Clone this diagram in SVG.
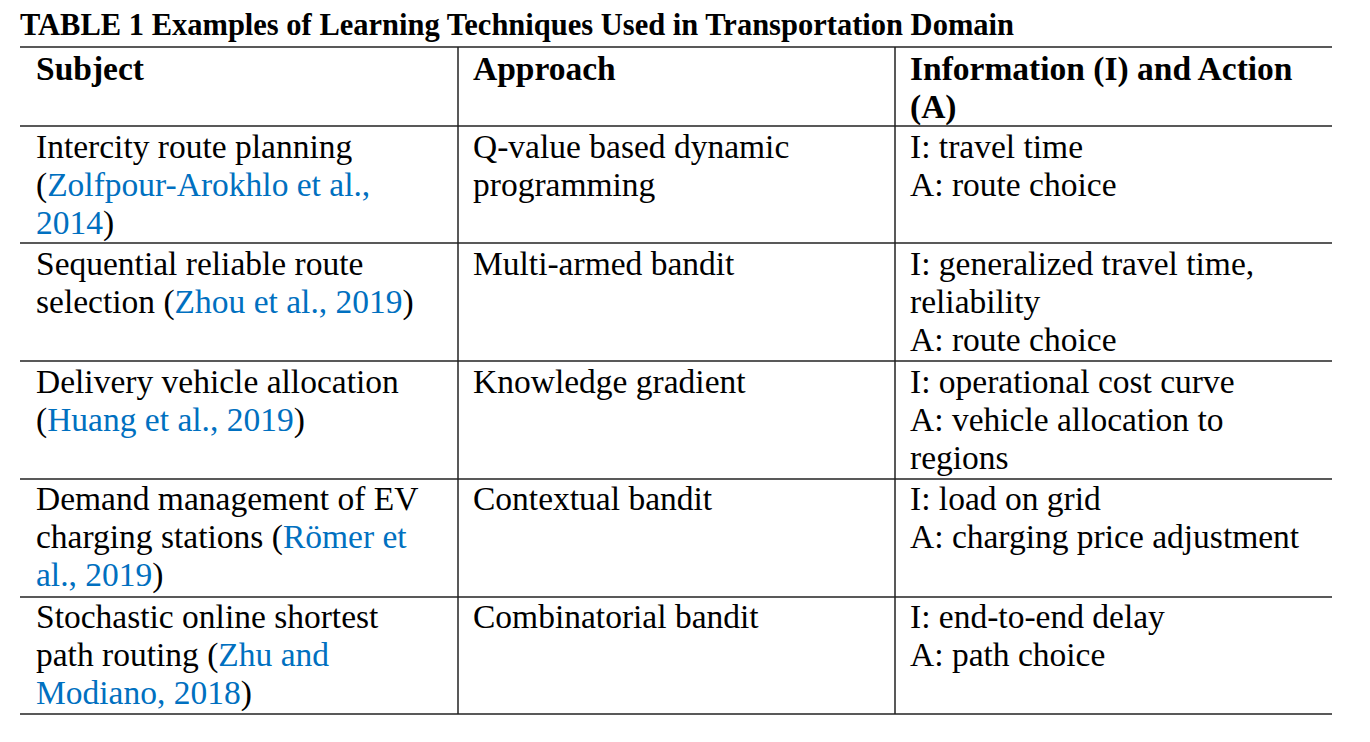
<svg xmlns="http://www.w3.org/2000/svg" width="1370" height="742" viewBox="0 0 1370 742">
<style>
text{font-family:"Liberation Serif",serif;font-size:33.5px;fill:#000}
.t{font-weight:bold;font-size:30.5px}
.h{font-weight:bold;font-size:33.5px}
.l{fill:#0070C0}
line{stroke:#222;stroke-width:1.5}
</style>
<rect width="1370" height="742" fill="#fff"/>
<text class="t" x="20" y="35">TABLE 1 Examples of Learning Techniques Used in Transportation Domain</text>
<g id="grid">
<line x1="20" y1="47" x2="1332" y2="47"/>
<line x1="20" y1="126" x2="1332" y2="126"/>
<line x1="20" y1="243" x2="1332" y2="243"/>
<line x1="20" y1="361" x2="1332" y2="361"/>
<line x1="20" y1="479" x2="1332" y2="479"/>
<line x1="20" y1="597" x2="1332" y2="597"/>
<line x1="20" y1="714" x2="1332" y2="714"/>
<line x1="458" y1="47" x2="458" y2="714"/>
<line x1="895" y1="47" x2="895" y2="714"/>
</g>
<g id="header">
<text class="h" x="36" y="80">Subject</text>
<text class="h" x="473" y="80">Approach</text>
<text class="h" x="910" y="80">Information (I) and Action</text>
<text class="h" x="910" y="118">(A)</text>
</g>
<g id="row1">
<text x="36" y="158">Intercity route planning</text>
<text x="36" y="196">(<tspan class="l">Zolfpour-Arokhlo et al.,</tspan></text>
<text x="36" y="234"><tspan class="l">2014</tspan>)</text>
<text x="473" y="158">Q-value based dynamic</text>
<text x="473" y="196">programming</text>
<text x="910" y="158">I: travel time</text>
<text x="910" y="196">A: route choice</text>
</g>
<g id="row2">
<text x="36" y="275">Sequential reliable route</text>
<text x="36" y="313">selection (<tspan class="l">Zhou et al., 2019</tspan>)</text>
<text x="473" y="275">Multi-armed bandit</text>
<text x="910" y="275">I: generalized travel time,</text>
<text x="910" y="313">reliability</text>
<text x="910" y="351">A: route choice</text>
</g>
<g id="row3">
<text x="36" y="393">Delivery vehicle allocation</text>
<text x="36" y="431">(<tspan class="l">Huang et al., 2019</tspan>)</text>
<text x="473" y="393">Knowledge gradient</text>
<text x="910" y="393">I: operational cost curve</text>
<text x="910" y="431">A: vehicle allocation to</text>
<text x="910" y="469">regions</text>
</g>
<g id="row4">
<text x="36" y="510">Demand management of EV</text>
<text x="36" y="548">charging stations (<tspan class="l">Römer et</tspan></text>
<text x="36" y="586"><tspan class="l">al., 2019</tspan>)</text>
<text x="473" y="510">Contextual bandit</text>
<text x="910" y="510">I: load on grid</text>
<text x="910" y="548">A: charging price adjustment</text>
</g>
<g id="row5">
<text x="36" y="628">Stochastic online shortest</text>
<text x="36" y="666">path routing (<tspan class="l">Zhu and</tspan></text>
<text x="36" y="704"><tspan class="l">Modiano, 2018</tspan>)</text>
<text x="473" y="628">Combinatorial bandit</text>
<text x="910" y="628">I: end-to-end delay</text>
<text x="910" y="666">A: path choice</text>
</g>
</svg>
